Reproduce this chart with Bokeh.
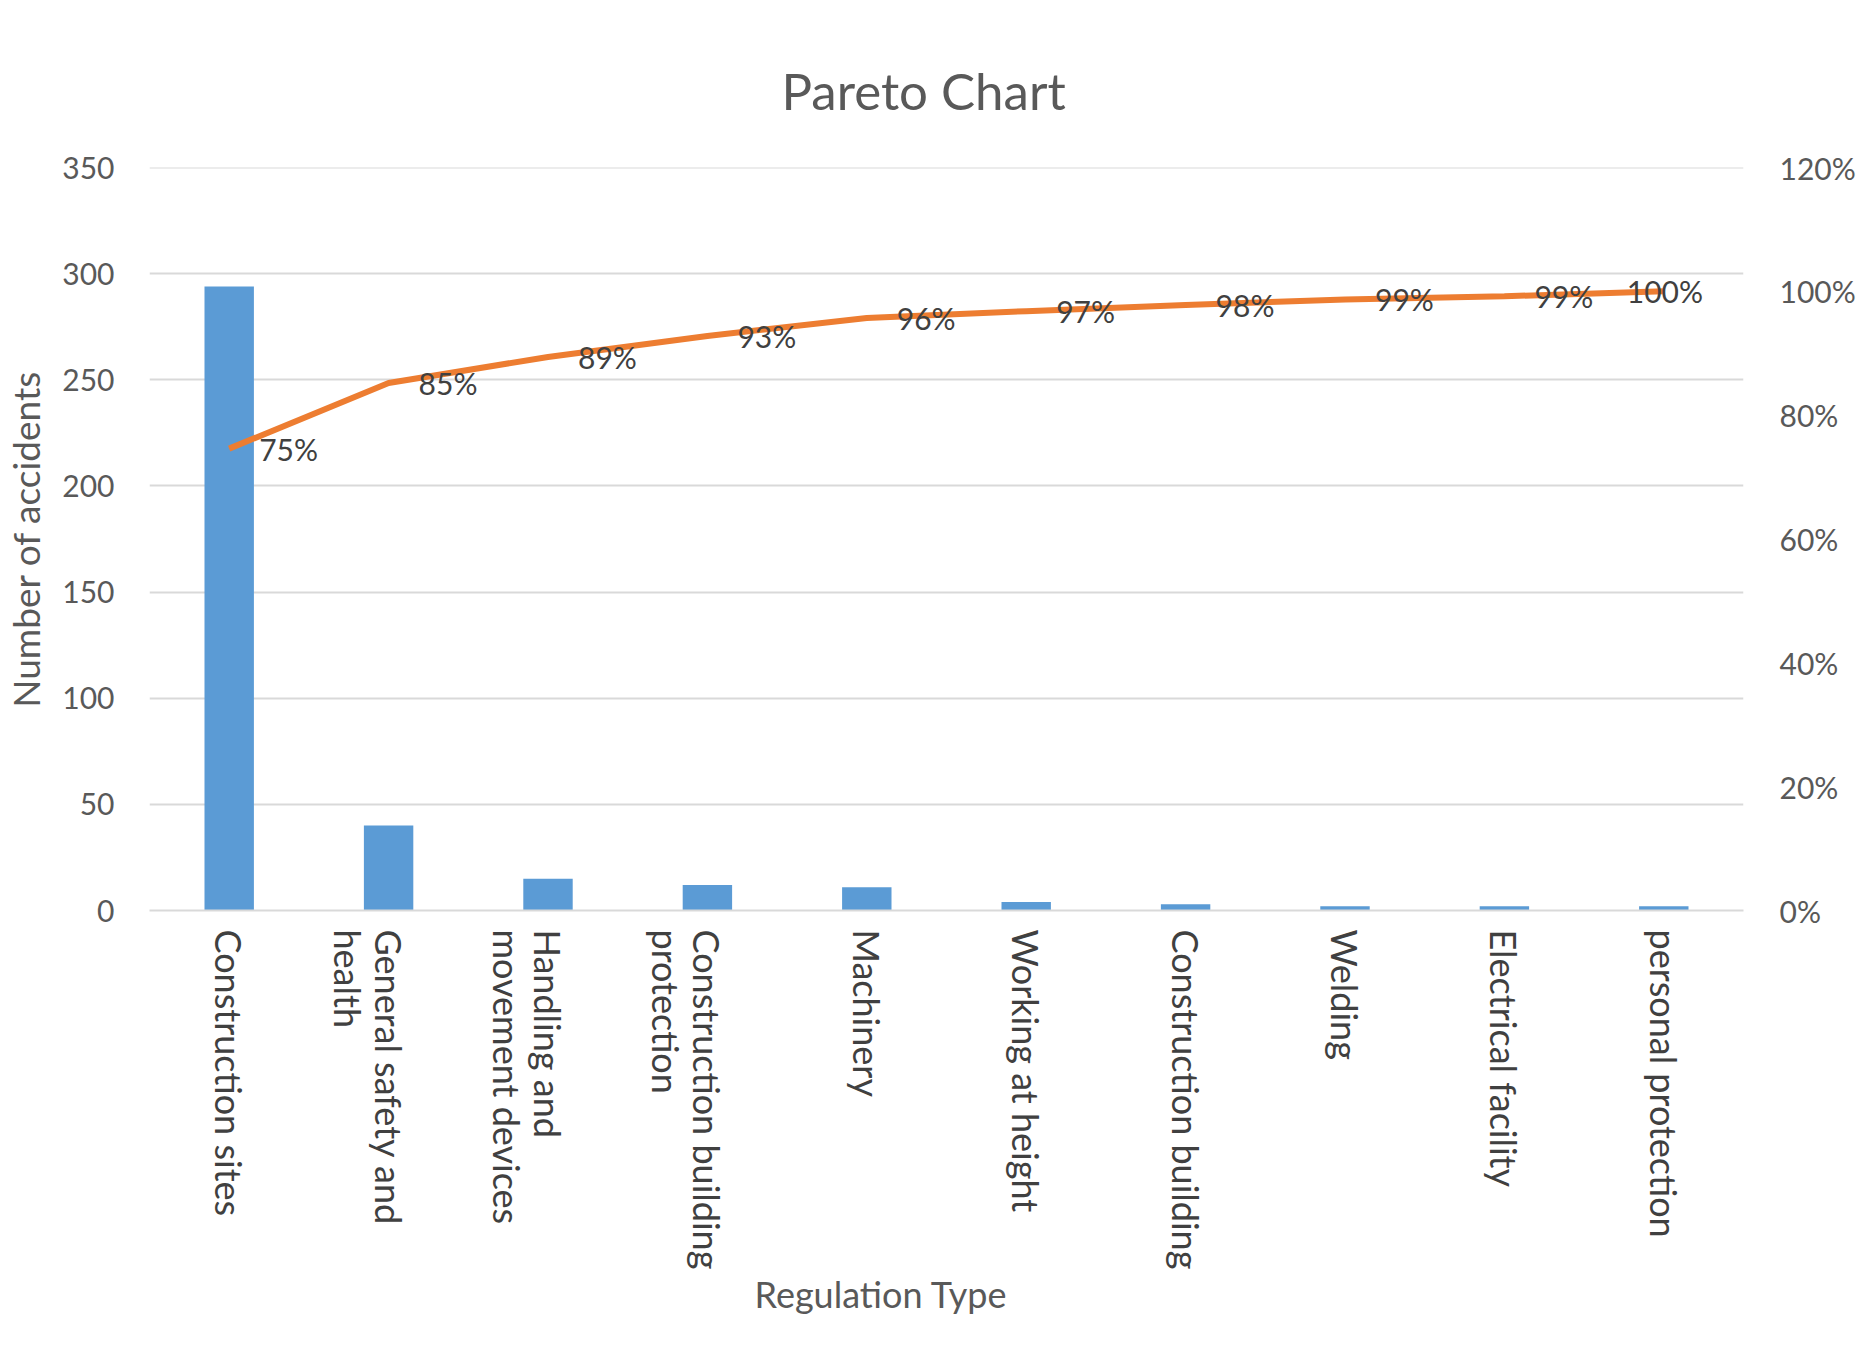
import math

from bokeh.core.properties import value
from bokeh.embed import file_html
from bokeh.models import (CDSView, ColumnDataSource, FactorRange, FixedTicker,
                          IndexFilter, LinearAxis, PrintfTickFormatter, Range1d, Span, Title)
from bokeh.plotting import figure
from bokeh.resources import INLINE

# data; categories wrapped the way the original chart shows them
categories = ["Construction sites", "General safety and\nhealth", "Handling and\nmovement devices",
              "Construction building\nprotection", "Machinery", "Working at height",
              "Construction building", "Welding", "Electrical facility", "personal protection"]
accidents = [294, 40, 15, 12, 11, 4, 3, 2, 2, 2]
cumulative_pct = [74.6, 85.2, 89.4, 92.8, 95.7, 96.8, 97.8, 98.7, 99.2, 100.0]
pct_labels = ["75%", "85%", "89%", "93%", "96%", "97%", "98%", "99%", "99%", "100%"]

left_ticks = [0, 50, 100, 150, 200, 250, 300, 350]
right_ticks = [0, 20, 40, 60, 80, 100, 120]

FONT = "Lato"
GREY = "#595959"
GRID = "#D9D9D9"

# Excel keeps the first line of a wrapped label on the tick; an empty line in front
# of the block does the same once the block is centred
factors = ["\n" + c if "\n" in c else c for c in categories]

source = ColumnDataSource(data=dict(cat=factors, acc=accidents, cum=cumulative_pct, lbl=pct_labels))

p = figure(x_range=FactorRange(*factors), y_range=Range1d(0, 350),
           width=1858, height=1339, output_backend="svg", toolbar_location=None,
           min_border_left=142, min_border_right=100, min_border_top=167, min_border_bottom=429)
p.extra_y_ranges = {"pct": Range1d(0, 120)}
p.outline_line_color = None
p.background_fill_color = "white"

# bars and cumulative line
p.vbar(x="cat", top="acc", width=0.31, source=source, fill_color="#5B9BD5", line_color=None)
p.line(x="cat", y="cum", source=source, y_range_name="pct", line_color="#ED7D31", line_width=6)

# data labels (the last one is pulled back inside the plot, as in the original)
label_style = dict(text_font=value(FONT), text_font_size="30px", text_color="#404040",
                   text_baseline="middle", text_align="left")
p.text(x="cat", y="cum", text="lbl", source=source, y_range_name="pct", x_offset=30,
       view=CDSView(filter=IndexFilter(list(range(len(categories) - 1)))), **label_style)
p.text(x="cat", y="cum", text="lbl", source=source, y_range_name="pct", x_offset=-37,
       view=CDSView(filter=IndexFilter([len(categories) - 1])), **label_style)

# grid
p.xgrid.grid_line_color = None
p.ygrid.grid_line_color = GRID
p.ygrid.grid_line_width = 2
p.add_layout(Span(location=left_ticks[-1], dimension="width", line_color=GRID, line_width=2))

# left axis
yax = p.yaxis[0]
yax.ticker = FixedTicker(ticks=left_ticks)
yax.axis_label = "Number of accidents"
yax.axis_label_text_font = FONT
yax.axis_label_text_font_size = "37px"
yax.axis_label_text_font_style = "normal"
yax.axis_label_text_color = GREY
yax.axis_label_standoff = 11

# right axis
rax = LinearAxis(y_range_name="pct", ticker=FixedTicker(ticks=right_ticks),
                 formatter=PrintfTickFormatter(format="%d%%"))
p.add_layout(rax, "right")

for ax in (yax, rax):
    ax.axis_line_color = None
    ax.major_tick_line_color = None
    ax.minor_tick_line_color = None
    ax.major_label_text_font = FONT
    ax.major_label_text_font_size = "30px"
    ax.major_label_text_color = GREY
yax.major_label_standoff = 29
rax.major_label_standoff = 30

# bottom axis
xax = p.xaxis[0]
xax.axis_line_color = GRID
xax.axis_line_width = 2
xax.major_tick_line_color = None
xax.minor_tick_line_color = None
xax.major_label_orientation = -math.pi / 2
xax.major_label_standoff = 13
xax.major_label_text_font = FONT
xax.major_label_text_font_size = "36px"
xax.major_label_text_line_height = 0.93
xax.major_label_text_color = "#404040"

# titles
p.title.text = "Pareto Chart"
p.title.align = "left"
p.title.offset = 632
p.title.standoff = 94
p.title.text_font = FONT
p.title.text_font_size = "51px"
p.title.text_font_style = "normal"
p.title.text_color = GREY

p.add_layout(Title(text="Regulation Type", align="left", offset=605, standoff=-5,
                   text_font=FONT, text_font_size="36px", text_font_style="normal",
                   text_color=GREY), "below")

open("out.html", "w").write(file_html(p, INLINE))
